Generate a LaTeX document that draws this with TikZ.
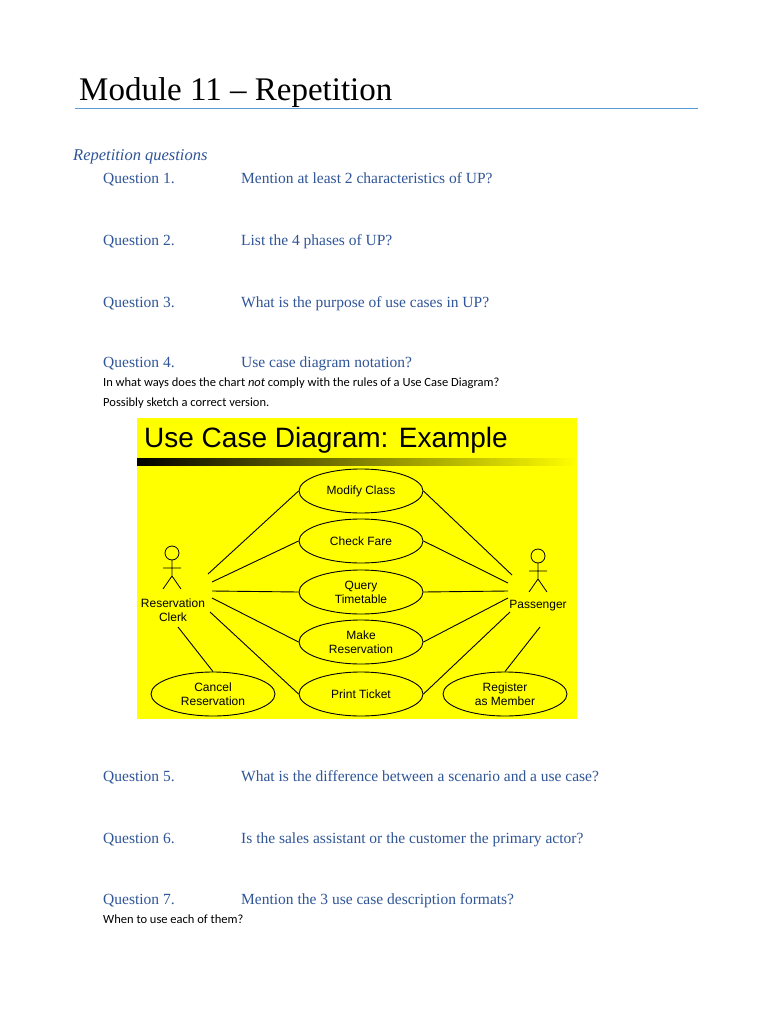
\documentclass[tikz,border=0pt]{standalone}
\usepackage{fontspec}
\setmainfont{Liberation Serif}
\newfontfamily\sansf{Liberation Sans}
\newfontfamily\calf{Carlito}
\usetikzlibrary{shapes.geometric}
\definecolor{qblue}{HTML}{2F5597}
\definecolor{rule}{HTML}{5B9BD5}
\definecolor{ylw}{HTML}{FFFF00}
\begin{document}
\begin{tikzpicture}[x=1pt,y=-1pt,
  q/.style={anchor=base west,inner sep=0,text=qblue,font=\fontsize{15.5}{18}\selectfont},
  sm/.style={anchor=base west,inner sep=0,font=\calf\fontsize{12.5}{15}\selectfont},
  uc/.style={ellipse,draw,line width=0.9pt,minimum width=124pt,minimum height=44pt,inner sep=0,align=center,font=\sansf\fontsize{12}{14}\selectfont},
  lk/.style={line width=0.9pt},
  act/.style={line width=0.8pt}]
\useasboundingbox (0,0) rectangle (768,1024);
\fill[white] (0,0) rectangle (768,1024);
\node[anchor=base west,inner sep=0,font=\fontsize{33}{38}\selectfont] (title) at (79,101) {Module 11 – Repetition};
\draw[rule,line width=0.8pt] (75,108.5) -- (698,108.5);
\node[anchor=base west,inner sep=0,text=qblue,font=\itshape\fontsize{16.5}{19}\selectfont] (rq) at (73,161) {Repetition questions};
\node[q] (q1) at (103,184) {Question 1.};
\node[q] (a1) at (241,184) {Mention at least 2 characteristics of UP?};
\node[q] (q2) at (103,245) {Question 2.};
\node[q] (a2) at (241,245) {List the 4 phases of UP?};
\node[q] (q3) at (103,307) {Question 3.};
\node[q] (a3) at (241,307) {What is the purpose of use cases in UP?};
\node[q] (q4) at (103,367) {Question 4.};
\node[q] (a4) at (241,367) {Use case diagram notation?};
\node[sm] (s1) at (103,386) {In what ways does the chart \emph{not} comply with the rules of a Use Case Diagram?};
\node[sm] (s2) at (103,406) {Possibly sketch a correct version.};
% panel
\fill[ylw] (137,418) rectangle (577,719);
\shade[left color=black,right color=ylw] (137,458) rectangle (577,465);
\node[anchor=base west,inner sep=0,font=\sansf\fontsize{28}{32}\selectfont] (ptitle) at (144,447) {Use Case Diagram: Example};
\node[uc] (mc) at (361,491) {Modify Class};
\node[uc] (cf) at (361,541) {Check Fare};
\node[uc] (qt) at (361,592) {Query\\Timetable};
\node[uc] (mr) at (361,642) {Make\\Reservation};
\node[uc] (pt) at (361,694) {Print Ticket};
\node[uc] (cr) at (213,694) {Cancel\\Reservation};
\node[uc] (rm) at (505,694) {Register\\as Member};
% actors
\draw[act] (172,553) circle (7);
\draw[act] (172,560) -- (172,576) (163,568) -- (181,568) (163,589) -- (172,576) -- (181,589);
\node[align=center,inner sep=0,font=\sansf\fontsize{12}{14}\selectfont] (clerk) at (173,610) {Reservation\\Clerk};
\draw[act] (538,556) circle (7);
\draw[act] (538,563) -- (538,579) (529,571) -- (547,571) (529,592) -- (538,579) -- (547,592);
\node[inner sep=0,font=\sansf\fontsize{12}{14}\selectfont] (pass) at (538,606) {Passenger};
% link ends
\coordinate (c1) at (208,574); \coordinate (c2) at (212,582); \coordinate (c3) at (212,591);
\coordinate (c4) at (212,598); \coordinate (c5) at (210,612); \coordinate (c6) at (178,627);
\coordinate (p1) at (512,575); \coordinate (p2) at (508,583); \coordinate (p3) at (508,591);
\coordinate (p4) at (508,598); \coordinate (p5) at (510,612); \coordinate (p6) at (540,627);
\draw[lk] (c1) -- (mc.west) (c2) -- (cf.west) (c3) -- (qt.west) (c4) -- (mr.west) (c5) -- (pt.west) (c6) -- (cr.north);
\draw[lk] (p1) -- (mc.east) (p2) -- (cf.east) (p3) -- (qt.east) (p4) -- (mr.east) (p5) -- (pt.east) (p6) -- (rm.north);
\node[q] (q5) at (103,781) {Question 5.};
\node[q] (a5) at (241,781) {What is the difference between a scenario and a use case?};
\node[q] (q6) at (103,843) {Question 6.};
\node[q] (a6) at (241,843) {Is the sales assistant or the customer the primary actor?};
\node[q] (q7) at (103,904) {Question 7.};
\node[q] (a7) at (241,904) {Mention the 3 use case description formats?};
\node[sm] (s3) at (103,923) {When to use each of them?};
\end{tikzpicture}
\end{document}
